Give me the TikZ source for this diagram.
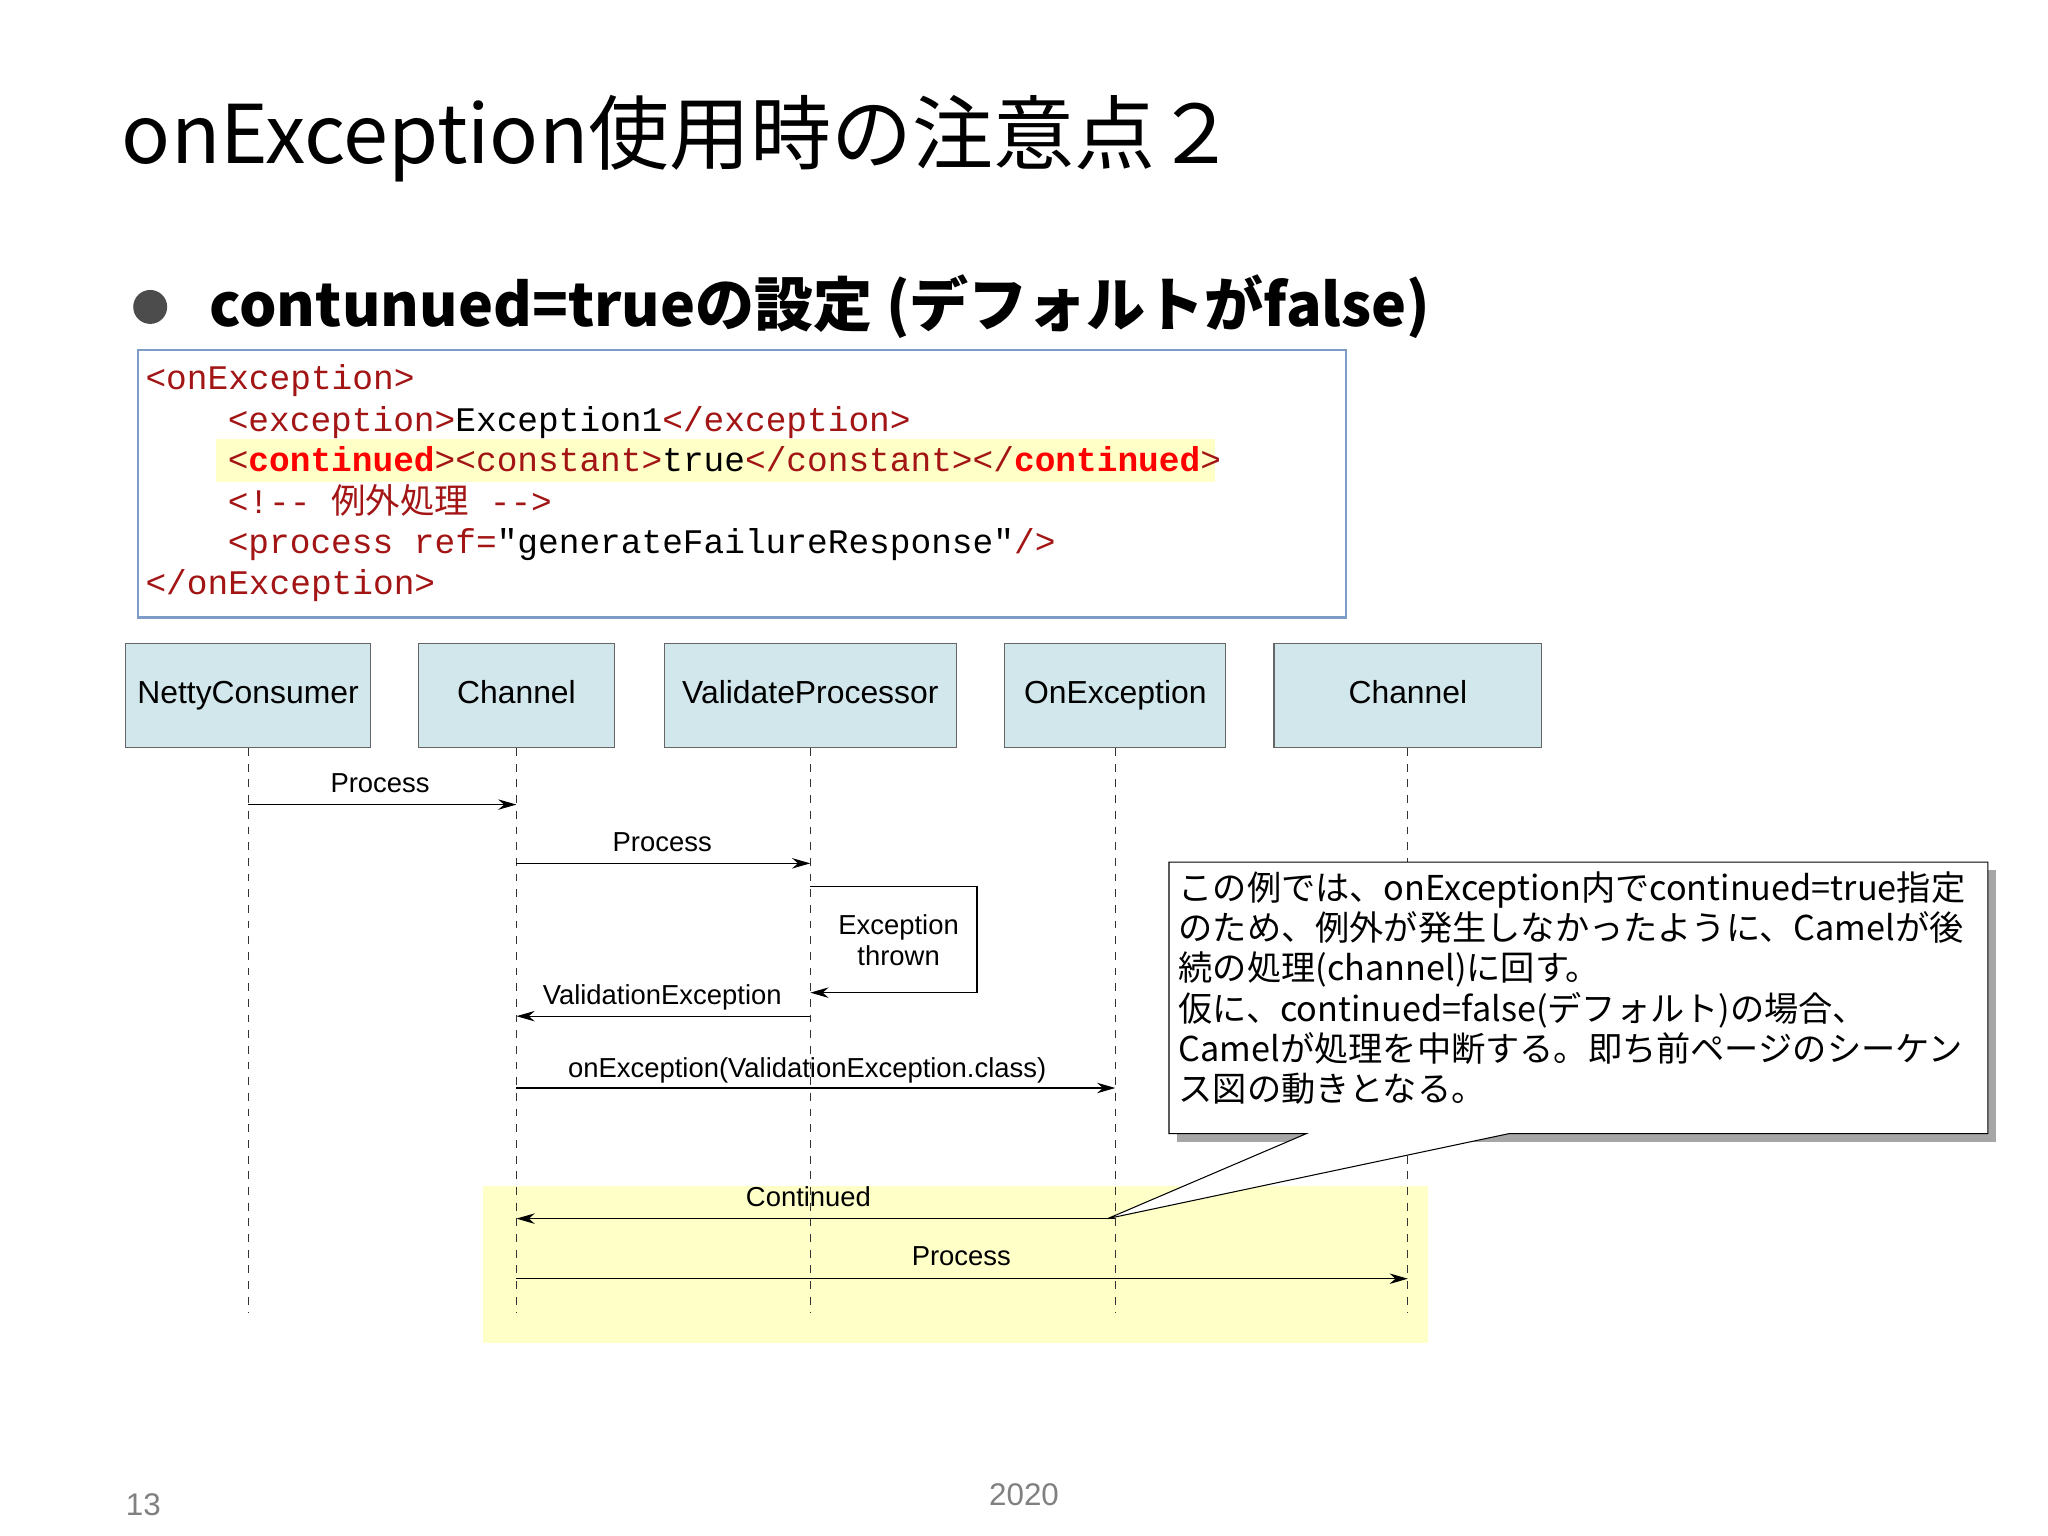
\documentclass[tikz,border=0pt]{standalone}
\usepackage{fontspec}
\setmainfont{Liberation Sans}
\setsansfont{Liberation Sans}
\setmonofont{Liberation Mono}
\newfontfamily\cjk{Noto Sans CJK JP}
\usetikzlibrary{arrows.meta}
\definecolor{tagred}{HTML}{A31515}
\definecolor{headfill}{HTML}{D2E7EC}
\definecolor{boxblue}{HTML}{7F9CC8}
\definecolor{hl}{HTML}{FFFFC8}
\tikzset{
 head/.style={draw=black!60,fill=headfill,minimum height=40pt,inner sep=0pt,text height=9pt,text depth=2.5pt,font=\fontsize{12.2}{14}\selectfont,anchor=north west},
 life/.style={dashed,black!80,thin},
 msg/.style={-{Stealth[length=7pt,width=4pt]},thin},
 lbl/.style={font=\fontsize{10.5}{12}\selectfont,anchor=base},
 code/.style={anchor=base west,inner sep=0pt,font=\ttfamily\fontsize{13.2}{15}\selectfont,text=tagred}
}
\begin{document}
\begin{tikzpicture}[x=0.5pt,y=-0.5pt]
\useasboundingbox (0,0) rectangle (1568,1176);
\fill[white] (0,0) rectangle (1568,1176);
\node[anchor=base west,inner sep=0pt,font=\cjk\fontsize{31}{34}\selectfont] (title) at (93,125) {onException使用時の注意点２};
\node[anchor=base west,inner sep=0pt,font=\cjk\bfseries\fontsize{22.6}{26}\selectfont] (sub) at (160,250) {contunued=trueの設定 (デフォルトがfalse)};
\fill[black!70] (115,235) circle (13);
% code box
\fill[hl] (165,336) rectangle (930,369);
\node[draw=boxblue,thick,minimum width=462.5pt,minimum height=102.5pt,anchor=north west,inner sep=0pt] (codebox) at (105,267) {};
\node[code] (c1) at (111,298) {<onException>};
\node[code] (c2) at (174,330) {<exception>\textcolor{black}{Exception1}</exception>};
\node[code] (c3) at (174,361) {<\textcolor{red}{\textbf{continued}}><constant>\textcolor{black}{true}</constant></\textcolor{red}{\textbf{continued}}>};
\node[code] (c4) at (174,393) {<!-- {\cjk 例外処理} -->};
\node[code] (c5) at (174,424) {<process ref=\textcolor{black}{"generateFailureResponse"}/>};
\node[code] (c6) at (111,455) {</onException>};
% highlight
\fill[hl] (370,908) rectangle (1093,1028);
% heads
\node[head,minimum width=93.5pt] (h1) at (96,492) {NettyConsumer};
\node[head,minimum width=75pt] (h2) at (320,492) {Channel};
\node[head,minimum width=112pt] (h3) at (508,492) {ValidateProcessor};
\node[head,minimum width=84.5pt] (h4) at (769,492) {OnException};
\node[head,minimum width=102.5pt] (h5) at (975,492) {Channel};
\foreach \i in {1,...,5}{
  \coordinate (e\i) at (h\i.south |- 0,1005);
  \draw[life] (h\i.south) -- (e\i);
}
% messages
\path (h1.south |- 0,616) coordinate (m1a) (h2.south |- 0,616) coordinate (m1b)
      (h2.south |- 0,661) coordinate (m2a) (h3.south |- 0,661) coordinate (m2b)
      (h3.south |- 0,778) coordinate (m3a) (h2.south |- 0,778) coordinate (m3b)
      (h2.south |- 0,833) coordinate (m4a) (h4.south |- 0,833) coordinate (m4b)
      (h4.south |- 0,933) coordinate (m5a) (h2.south |- 0,933) coordinate (m5b)
      (h2.south |- 0,979) coordinate (m6a) (h5.south |- 0,979) coordinate (m6b);
\draw[msg] (m1a) -- (m1b);
\node[lbl] (l1) at (291,607) {Process};
\draw[msg] (m2a) -- (m2b);
\node[lbl] (l2) at (507,652) {Process};
\draw[msg] (m3a) -- (m3b);
\node[lbl] (l3) at (507,769) {ValidationException};
\draw[msg] (m4a) -- (m4b);
\node[lbl] (l4) at (618,825) {onException(ValidationException.class)};
\draw[msg] (m5a) -- (m5b);
\node[lbl] (l5) at (619,924) {Continued};
\draw[msg] (m6a) -- (m6b);
\node[lbl] (l6) at (736,969) {Process};
% exception thrown self box
\coordinate (x1) at (748,760);
\coordinate (x2) at (h3.south |- 0,760);
\draw[thin] (h3.south |- 0,679) -- (748,679) -- (x1);
\draw[msg] (x1) -- (x2);
\node[lbl,align=center,anchor=center] (l7) at (688,720) {Exception\\thrown};
% callout
\fill[black!35] (901,666) rectangle (1528,874);
\draw[thin,fill=white] (895,660) -- (1522,660) -- (1522,868) -- (1155,868) -- (848,933) -- (1000,868) -- (895,868) -- cycle;
\node[anchor=north west,align=left,inner sep=0pt,font=\cjk\fontsize{13.1}{15.4}\selectfont] (note) at (902,667) {この例では、onException内でcontinued=true指定\\のため、例外が発生しなかったように、Camelが後\\続の処理(channel)に回す。\\仮に、continued=false(デフォルト)の場合、\\Camelが処理を中断する。即ち前ページのシーケン\\ス図の動きとなる。};
% footer
\node[anchor=base west,inner sep=0pt,text=black!50,font=\fontsize{12}{14}\selectfont] (pg) at (96,1160) {13};
\node[anchor=base,inner sep=0pt,text=black!50,font=\fontsize{12}{14}\selectfont] (yr) at (784,1153) {2020};
\end{tikzpicture}
\end{document}
